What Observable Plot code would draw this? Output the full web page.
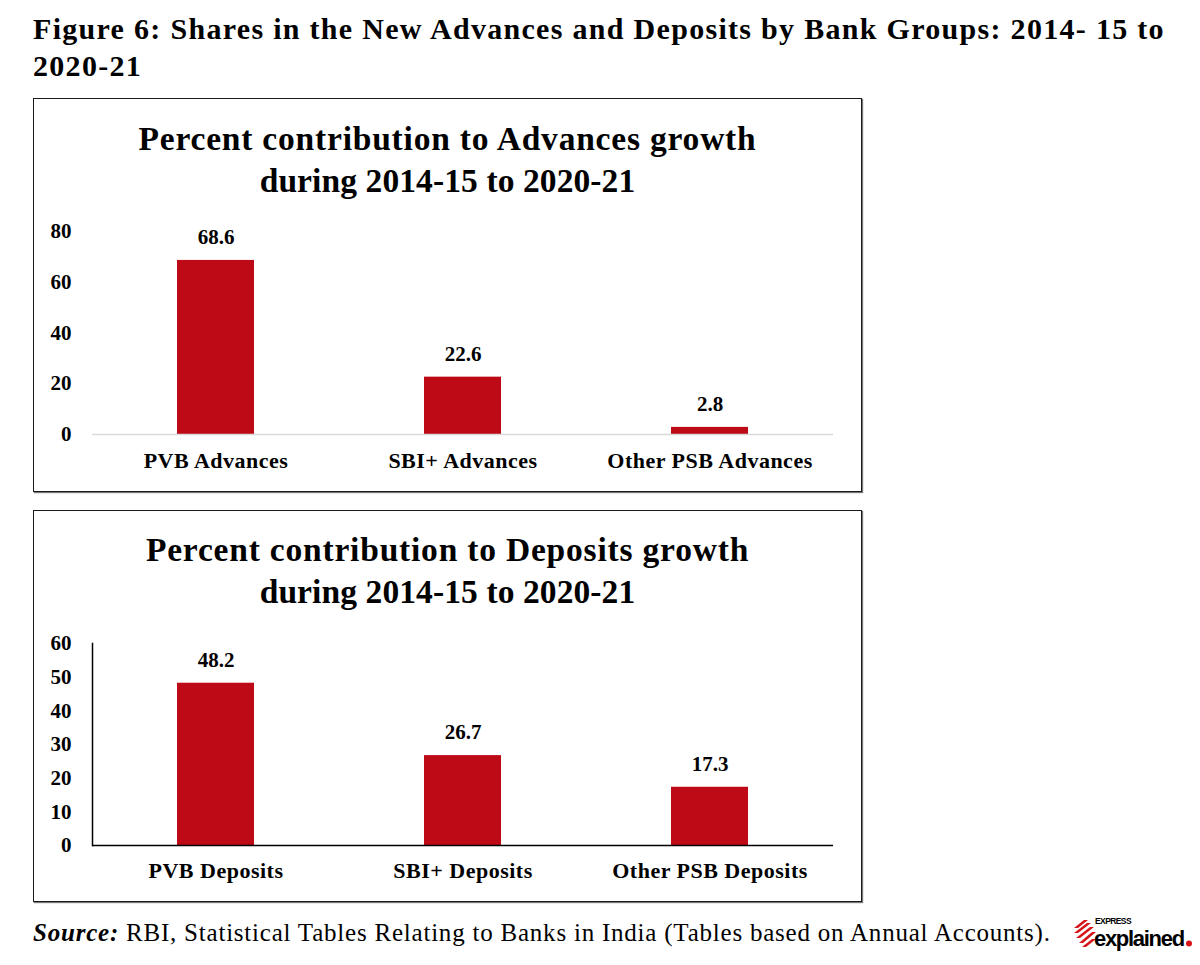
<!DOCTYPE html>
<html>
<head>
<meta charset="utf-8">
<script src="https://cdn.jsdelivr.net/npm/d3@7"></script>
<script src="https://cdn.jsdelivr.net/npm/@observablehq/plot@0.6"></script>
<style>
  html, body { margin: 0; padding: 0; background: #fff; }
  body { width: 1200px; height: 965px; position: relative; overflow: hidden; font-family: "Liberation Serif", serif; color: #000; }
  .abs { position: absolute; }
  #title { left: 33px; top: 10px; width: 1165px; font-weight: bold; font-size: 30px; line-height: 37px; letter-spacing: 1.3px; white-space: nowrap; }
  .box { border: 1.5px solid #1a1a1a; box-sizing: border-box; left: 33px; width: 829px; box-shadow: 1px 1px 1px #777; }
  .boxtitle { left: 33px; width: 829px; text-align: center; font-weight: bold; font-size: 33.5px; line-height: 42px; }
  .boxtitle .l1 { letter-spacing: 0.8px; }
  .boxtitle .l2 { letter-spacing: 0.1px; }
  #source { left: 33px; top: 919px; font-size: 25px; letter-spacing: 0.78px; white-space: nowrap; }
  .chart { left: 0; }
  .chart svg { overflow: visible; }
  .chart g[aria-label="x-axis tick label"] text { letter-spacing: 0.5px; }
</style>
</head>
<body>
<div id="title" class="abs">Figure 6: Shares in the New Advances and Deposits by Bank Groups: 2014- 15 to<br>2020-21</div>

<div class="abs box" style="top:98px;height:394px;"></div>
<div class="abs boxtitle" style="top:118px;"><span class="l1">Percent contribution to Advances growth</span><br><span class="l2">during 2014-15 to 2020-21</span></div>
<div id="chart1" class="abs chart" style="top:200px;"></div>

<div class="abs box" style="top:510px;height:392px;"></div>
<div class="abs boxtitle" style="top:529px;"><span class="l1">Percent contribution to Deposits growth</span><br><span class="l2">during 2014-15 to 2020-21</span></div>
<div id="chart2" class="abs chart" style="top:610px;"></div>

<div id="source" class="abs"><b><i>Source:</i></b> RBI, Statistical Tables Relating to Banks in India (Tables based on Annual Accounts).</div>

<svg class="abs" style="left:1070px;top:914px;" width="130" height="40" viewBox="0 0 130 40">
  <g fill="#d7141a">
    <polygon points="4,14 14,6 18,6 8,14"/>
    <polygon points="4,19 17,9 21,9 8,19"/>
    <polygon points="6,24 20,13 24,13 10,24"/>
    <polygon points="9,29 22,18 26,18 13,29"/>
    <polygon points="12,33 22,25 26,25 16,33"/>
  </g>
  <text x="25" y="10" font-family="Liberation Sans" font-weight="bold" font-size="8.5" letter-spacing="-0.6" fill="#000">EXPRESS</text>
  <text x="24" y="32" font-family="Liberation Sans" font-weight="bold" font-size="22" letter-spacing="-1.3" fill="#000">explained</text>
  <circle cx="119" cy="29.5" r="3" fill="#d7141a"/>
</svg>

<script>
const advCategories = ["PVB Advances", "SBI+ Advances", "Other PSB Advances"];
const advValues = [68.6, 22.6, 2.8];
const advTicks = [0, 20, 40, 60, 80];

const depCategories = ["PVB Deposits", "SBI+ Deposits", "Other PSB Deposits"];
const depValues = [48.2, 26.7, 17.3];
const depTicks = [0, 10, 20, 30, 40, 50, 60];

const barColor = "#be0a16";
const baseStyle = {fontFamily: "'Liberation Serif', serif", fontWeight: "bold", fontSize: "21px", color: "#000", background: "transparent", overflow: "visible"};

function makeChart(categories, values, ticks, opts) {
  const data = categories.map((c, i) => ({category: c, value: values[i]}));
  return Plot.plot({
    width: 862,
    height: 290,
    marginLeft: 92,
    marginRight: 29,
    marginTop: opts.marginTop,
    marginBottom: opts.marginBottom,
    style: baseStyle,
    x: {type: "band", domain: categories, paddingInner: 0.69, paddingOuter: 0.345, label: null},
    y: {domain: [0, ticks[ticks.length - 1]], label: null},
    marks: [
      Plot.axisY({ticks: ticks, tickSize: 0, tickPadding: 21, fontSize: 21, fontWeight: "bold", label: null}),
      Plot.axisX({tickSize: 0, tickPadding: opts.xPad, fontSize: 22, fontWeight: "bold", label: null}),
      opts.yLine ? Plot.frame({anchor: "left", stroke: "#000", strokeWidth: 1.5}) : null,
      Plot.barY(data, {x: "category", y: "value", fill: barColor}),
      Plot.ruleY([0], {stroke: opts.baseColor, strokeWidth: opts.baseWidth}),
      Plot.text(data, {x: "category", y: "value", text: d => d.value.toFixed(1), dy: -23, fontSize: 21, fontWeight: "bold", fill: "#000"})
    ].filter(Boolean)
  });
}

document.getElementById("chart1").appendChild(
  makeChart(advCategories, advValues, advTicks, {marginTop: 31, marginBottom: 56, xPad: 18, baseColor: "#d9d9d9", baseWidth: 1.5, yLine: false})
);
document.getElementById("chart2").appendChild(
  makeChart(depCategories, depValues, depTicks, {marginTop: 33, marginBottom: 55, xPad: 17, baseColor: "#000", baseWidth: 1.5, yLine: true})
);
</script>
</body>
</html>
